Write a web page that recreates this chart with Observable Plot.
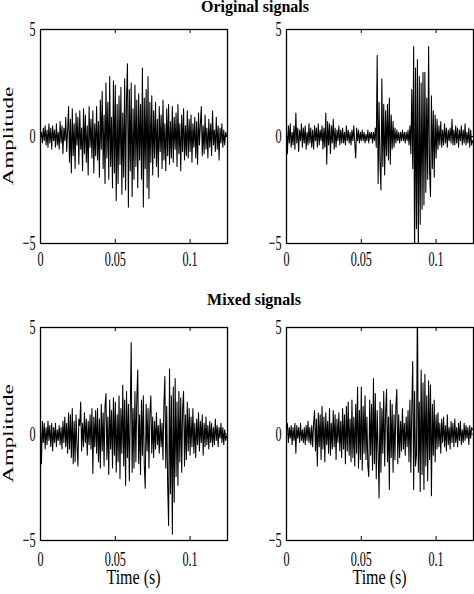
<!DOCTYPE html>
<html>
<head>
<meta charset="utf-8">
<script src="https://cdn.jsdelivr.net/npm/d3@7"></script>
<script src="https://cdn.jsdelivr.net/npm/@observablehq/plot@0.6"></script>
<style>
  html, body { margin: 0; padding: 0; background: #fff; }
  #chart { position: relative; width: 474px; height: 594px; overflow: hidden; background: #fff; }
  #chart > svg { position: absolute; }
</style>
</head>
<body>
<div id="chart"></div>
<script>
// ---- data ----
const sampleInterval = 0.000625; // s between samples
const titles = ["Original signals", "Mixed signals"];
const yLabel = "Amplitude";
const xLabel = "Time (s)";
const xTicks = [0, 0.05, 0.1];
const xTickLabels = ["0", "0.05", "0.1"];
const yTicks = [-5, 0, 5];
const yTickLabels = ["\u22125", "0", "5"];
const xDomain = [0, 0.125];
const yDomain = [-5, 5];

const original1 = [
  0, 0.2, -0.3, 0.4, -0.2, 0.5, -0.4, 0.3, -0.5, 0.6, -0.3, 0.4, -0.6, 0.5, -0.2, 0.3, -0.5, 0.6, -0.4, 0.2,
  -0.6, 0.7, -0.3, 0.5, -0.8, 0.4, -0.2, 0.9, -0.7, 0.3, 1.4, -1.2, 0.8, -1.7, 1.3, -0.9, 0.6, -1.5, 1.1, -0.4,
  0.9, -1.3, 1.2, -0.6, 0.4, -1.6, 1.3, -0.8, 1.0, -1.2, 0.5, -1.8, 1.4, -0.5, 0.8, -1.0, 1.2, -1.7, 0.6, -0.9,
  1.4, -1.1, 0.7, -1.9, 1.7, -0.6, 2.1, -1.5, 1.0, -2.2, 2.5, -1.0, 1.6, -2.0, 2.8, -1.4, 0.9, -2.4, 2.6, -1.7,
  2.4, -3.0, 1.5, -2.2, 1.9, -1.3, 2.3, -2.7, 1.1, -1.9, 2.7, -2.5, 1.8, 3.4, -3.3, 2.2, -1.6, 2.5, -2.8, 1.3,
  -2.0, 2.4, -1.4, 1.7, -2.4, 2.0, -1.1, 1.5, -2.0, 3.2, -3.3, 1.8, -1.5, 2.2, -2.4, 2.8, -2.9, 1.6, -1.2, 1.9,
  -1.8, 1.2, -1.0, 1.6, -1.4, 0.8, -1.9, 1.4, -0.7, 1.0, -1.5, 1.7, -1.1, 0.6, -1.6, 1.3, -0.9, 1.5, -1.3, 0.7,
  -1.0, 1.4, -1.2, 0.9, -0.6, 1.1, -1.4, 1.5, -0.8, 0.6, -1.6, 1.0, -0.7, 1.3, -1.1, 0.5, -0.9, 1.2, -1.0, 0.8,
  -0.7, 1.0, -1.2, 0.6, -0.5, 0.9, -1.0, 0.7, -1.3, 1.1, -0.4, 0.6, 1.4, -0.9, 0.5, -0.8, 1.0, -0.6, 0.4, -1.0,
  0.8, -0.5, 0.6, -0.9, 1.2, -0.4, 0.3, -0.7, 0.9, -0.6, 0.5, -1.1, 0.4, -0.3, 0.6, -0.5, 0.3, -0.4, 0.2, 0.0
];

const original2 = [
  0.3, -0.8, 0.5, -0.3, 0.6, -0.5, 0.2, -0.4, 0.5, -0.6, 1.1, -0.3, 0.4, -0.7, 0.3, -0.2, 0.6, -0.5, 0.4, -0.3,
  0.5, -0.6, 0.2, -0.4, 0.6, -0.3, 0.4, -0.5, 0.3, -0.6, 0.5, -0.2, 0.4, -0.5, 0.6, -0.4, 0.3, -0.2, 0.5, -0.6,
  0.4, -0.5, 1.1, -1.3, 0.7, -0.4, 0.6, -0.8, 0.5, -0.3, 0.8, -0.6, 0.4, -0.5, 0.3, -0.2, 0.5, -0.4, 0.3, -0.3,
  0.4, -0.3, 0.2, -0.4, 0.5, -0.2, 0.3, -0.3, 0.2, -0.4, 0.3, -0.2, 0.5, -0.3, -1.0, 0.4, -0.2, 0.3, -0.3, 0.2,
  -0.2, 0.3, -0.2, 0.2, -0.3, 0.1, -0.2, 0.3, -0.3, 0.2, -0.1, 0.2, -0.3, 0.2, -0.2, 0.4, -0.5, 3.8, -2.2, 1.6,
  -1.2, -2.5, 2.7, -1.4, 1.5, -1.8, 1.2, -0.9, 1.5, -1.1, 1.8, -1.3, 1.0, -0.6, 0.7, -0.5, 0.4, -0.3, 0.3, -0.2,
  0.2, -0.3, 0.2, -0.2, 0.3, -0.2, 0.2, -0.3, 0.2, -0.2, 0.3, -0.4, 0.5, -0.8, 2.2, -1.5, 4.2, -5.8, 3.2, -4.3,
  3.6, -5.6, 2.8, -4.1, 2.5, -3.4, 3.0, -3.2, 3.0, -2.6, 1.8, -2.0, 4.2, -1.6, -2.8, 1.9, -1.5, 1.2, -1.9, 1.0,
  -1.0, 0.8, -0.6, 0.5, -0.4, 0.7, -0.5, 0.3, -0.4, 0.6, -0.3, 0.4, -0.5, 0.3, -0.2, 0.4, -0.3, 0.8, -0.4, 0.3,
  -0.4, 0.5, -0.3, 0.4, -0.5, 0.3, -0.2, 0.5, -0.4, 0.3, -0.3, 0.6, -0.4, 0.2, -0.3, 0.4, -0.5, 0.3, -0.4, -0.2
];

const mixed1 = [
  0.3, -1.4, 0.6, -0.4, 0.5, -0.7, 0.3, -0.5, 0.6, -0.3, 0.4, -0.6, 0.5, -0.8, 0.3, -0.4, 0.5, -0.6, 0.2, -0.3,
  0.4, -0.5, 0.3, -0.7, 0.6, -0.4, 0.8, -0.6, 0.5, -0.9, 1.0, -0.7, 0.9, -1.1, 1.2, -1.4, 0.6, -1.3, 0.9, -0.5,
  -1.5, 0.7, 0.4, 1.5, -0.8, 0.5, -0.6, 1.0, -0.4, 0.7, -1.0, 0.6, -0.5, 0.9, -0.7, 1.2, -1.85, 0.8, -0.6, 1.1,
  -0.9, 1.2, -1.3, 0.7, -1.6, 1.4, -0.8, 1.0, -1.5, 1.3, 1.9, -1.2, 0.8, -1.9, 1.6, -0.7, 1.1, -1.6, 1.7, -1.0,
  1.5, -1.8, 0.9, -1.3, 1.8, -2.1, 1.2, -0.9, 2.3, -1.5, 1.6, -2.4, 2.0, -1.1, 1.4, -2.2, 1.0, 4.3, -1.8, 1.2,
  -1.6, 2.0, -1.3, 1.7, 3.0, -1.4, 0.9, -1.9, 1.6, -1.0, 1.8, -1.5, -2.55, 1.4, -0.8, 1.2, -1.6, 1.0, 1.8, -0.9,
  0.8, -1.1, 0.6, -0.7, 1.0, -0.5, 0.4, -0.9, 0.7, -0.6, 0.5, -1.2, 1.4, 2.7, -1.6, 1.3, -2.4, -4.3, 3.05, -2.8,
  1.8, -4.7, 2.2, -3.2, 2.6, -2.0, 1.5, -2.4, 2.0, -1.3, 1.7, -1.8, 1.2, 2.0, -1.5, 0.9, -1.2, 1.5, -0.8, 1.2,
  -1.0, 0.8, -0.6, 1.2, -0.9, 0.5, -1.1, 0.7, -0.5, 1.0, -0.8, 0.6, -0.4, 0.9, -1.0, 0.5, -0.6, 0.8, -0.5, 0.4,
  -0.7, 0.6, -0.4, 0.5, -0.6, 0.3, -0.5, 0.7, -0.3, 0.4, -0.6, 0.3, -0.2, 0.5, -0.4, 0.3, -0.5, 0.2, -0.3, -0.1
];

const mixed2 = [
  0.2, 0.5, -0.4, 0.3, -0.2, 0.4, -0.5, 0.3, -0.3, 0.5, -0.9, 0.4, -0.2, 0.3, -0.4, 0.5, -0.3, 0.2, -0.4, 0.3,
  -0.5, 0.4, -0.3, 0.6, -0.4, 0.3, -0.5, 0.4, -0.6, 0.5, 1.1, -0.8, 0.7, -1.5, 1.0, -0.6, 0.9, -1.2, 1.3, -0.7,
  0.8, -1.3, 1.0, -0.5, 0.6, -0.9, 1.2, -1.0, 0.5, -0.7, 1.1, -0.6, 0.9, -1.2, 0.7, -0.4, 1.0, -0.8, 0.6, -1.1,
  1.2, -0.7, 0.9, -1.4, 1.3, -0.8, 1.5, -1.0, 0.7, -1.3, 1.6, -1.1, 0.8, -1.5, 1.4, -0.9, 2.2, -1.6, 1.1, -1.2,
  2.2, -1.7, 1.3, -0.9, 1.8, -1.2, 0.8, -1.5, -2.0, 1.6, -1.0, 1.4, -1.7, 2.6, -1.4, 1.9, -2.1, 1.1, -0.8, -3.0,
  1.5, -1.8, 1.2, -0.9, 2.0, -1.5, 1.0, 2.1, -1.3, 0.8, -2.6, 1.6, -1.1, 1.4, -1.8, 0.9, -1.2, 1.3, 2.1, -1.4,
  0.9, -1.1, 0.6, -0.8, 1.2, -0.7, 0.5, -1.0, 0.8, -0.6, 1.1, -1.3, 1.6, -1.8, 1.2, 3.4, -2.6, 2.0, -1.5, -1.0,
  6.5, -1.8, 1.5, -2.7, 3.0, -1.9, 2.4, -2.6, 2.8, -1.5, 1.8, -2.2, 2.5, -1.2, 2.3, -2.9, 1.4, -1.0, 1.6, -1.3,
  0.9, -0.7, 1.0, -0.6, 0.5, -0.9, 0.7, -0.4, 0.8, -0.6, 0.4, -0.8, 0.9, -0.5, 0.3, -0.7, 0.6, -0.4, 0.5, -0.6,
  0.7, -0.4, 0.3, -0.6, 0.5, -0.3, 0.6, -0.5, 0.2, -0.4, 0.5, -0.3, 0.4, -0.2, 0.3, -0.5, 0.4, -0.2, 0.3, 0.2
];

// ---- layout ----
const FONT = "'Liberation Serif', 'Times New Roman', serif";
const chart = document.getElementById("chart");

// horizontally condense text glyphs (the reference's lettering is narrow)
function condense(root, selector, factor) {
  root.querySelectorAll(selector).forEach(t => {
    const w = t.getComputedTextLength();
    if (w > 0) {
      t.setAttribute("textLength", (w * factor).toFixed(2));
      t.setAttribute("lengthAdjust", "spacingAndGlyphs");
    }
  });
}

function panel(values, o) {
  const data = values.map((v, i) => ({t: i * sampleInterval, v}));
  const innerW = o.width - o.ml - o.mr;
  const innerH = o.height - o.mt - o.mb;
  const tk = 4; // inward tick length (px)
  const svg = Plot.plot({
    width: o.width, height: o.height,
    marginTop: o.mt, marginBottom: o.mb, marginLeft: o.ml, marginRight: o.mr,
    x: {domain: xDomain, label: null, axis: null},
    y: {domain: yDomain, label: null, axis: null},
    style: {background: "transparent", fontFamily: FONT, color: "#000", overflow: "visible"},
    marks: [
      Plot.line(data, {x: "t", y: "v", stroke: "#000", strokeWidth: 1.05, clip: true}),
      Plot.frame({stroke: "#000", strokeWidth: 1.3}),
      Plot.tickX(xTicks, {x: d => d, insetTop: innerH - tk, stroke: "#000"}),
      Plot.tickX(xTicks, {x: d => d, insetBottom: innerH - tk, stroke: "#000"}),
      Plot.tickY(yTicks, {y: d => d, insetRight: innerW - tk, stroke: "#000"}),
      Plot.tickY(yTicks, {y: d => d, insetLeft: innerW - tk, stroke: "#000"}),
      Plot.text(xTicks, {x: d => d, text: (d, i) => xTickLabels[i], frameAnchor: "bottom",
        lineAnchor: "top", dy: o.xpad, fontSize: 21, fill: "#000"}),
      Plot.text(yTicks, {y: d => d, text: (d, i) => yTickLabels[i], frameAnchor: "left",
        textAnchor: "end", dx: -5, fontSize: 21, fill: "#000"})
    ]
  });
  svg.style.left = o.left + "px";
  svg.style.top = o.top + "px";
  chart.appendChild(svg);
  condense(svg, 'g[aria-label="text"] text', 0.58);
}

const topRow = {top: 0, height: 275, mt: 29, mb: 32, xpad: 8};
const botRow = {top: 290, height: 304, mt: 37, mb: 54, xpad: 11};
const leftCol = {left: 0, width: 234, ml: 40, mr: 7};
const rightCol = {left: 246, width: 228, ml: 40, mr: 1};

panel(original1, {...topRow, ...leftCol});
panel(original2, {...topRow, ...rightCol});
panel(mixed1, {...botRow, ...leftCol});
panel(mixed2, {...botRow, ...rightCol});

// ---- titles and axis names ----
const ns = "http://www.w3.org/2000/svg";
const over = document.createElementNS(ns, "svg");
over.setAttribute("width", 474); over.setAttribute("height", 594);
over.style.left = "0px"; over.style.top = "0px"; over.style.pointerEvents = "none";
chart.appendChild(over);
function addText(str, x, y, size, weight, transform) {
  const t = document.createElementNS(ns, "text");
  t.textContent = str;
  t.setAttribute("text-anchor", "middle");
  t.setAttribute("font-family", FONT);
  t.setAttribute("font-size", size);
  t.setAttribute("font-weight", weight);
  t.setAttribute("fill", "#000");
  t.setAttribute("transform", `translate(${x},${y}) ${transform || ""}`);
  over.appendChild(t);
}
addText(titles[0], 255, 12, 16, "bold");
addText(titles[1], 254, 305, 16, "bold");
addText(yLabel, 13, 136, 23, "normal", "rotate(-90) scale(1,0.65)");
addText(yLabel, 13, 433.5, 23, "normal", "rotate(-90) scale(1,0.65)");
addText(xLabel, 133.5, 584, 20, "normal", "scale(0.8,1)");
addText(xLabel, 379.5, 584, 20, "normal", "scale(0.8,1)");
</script>
</body>
</html>
